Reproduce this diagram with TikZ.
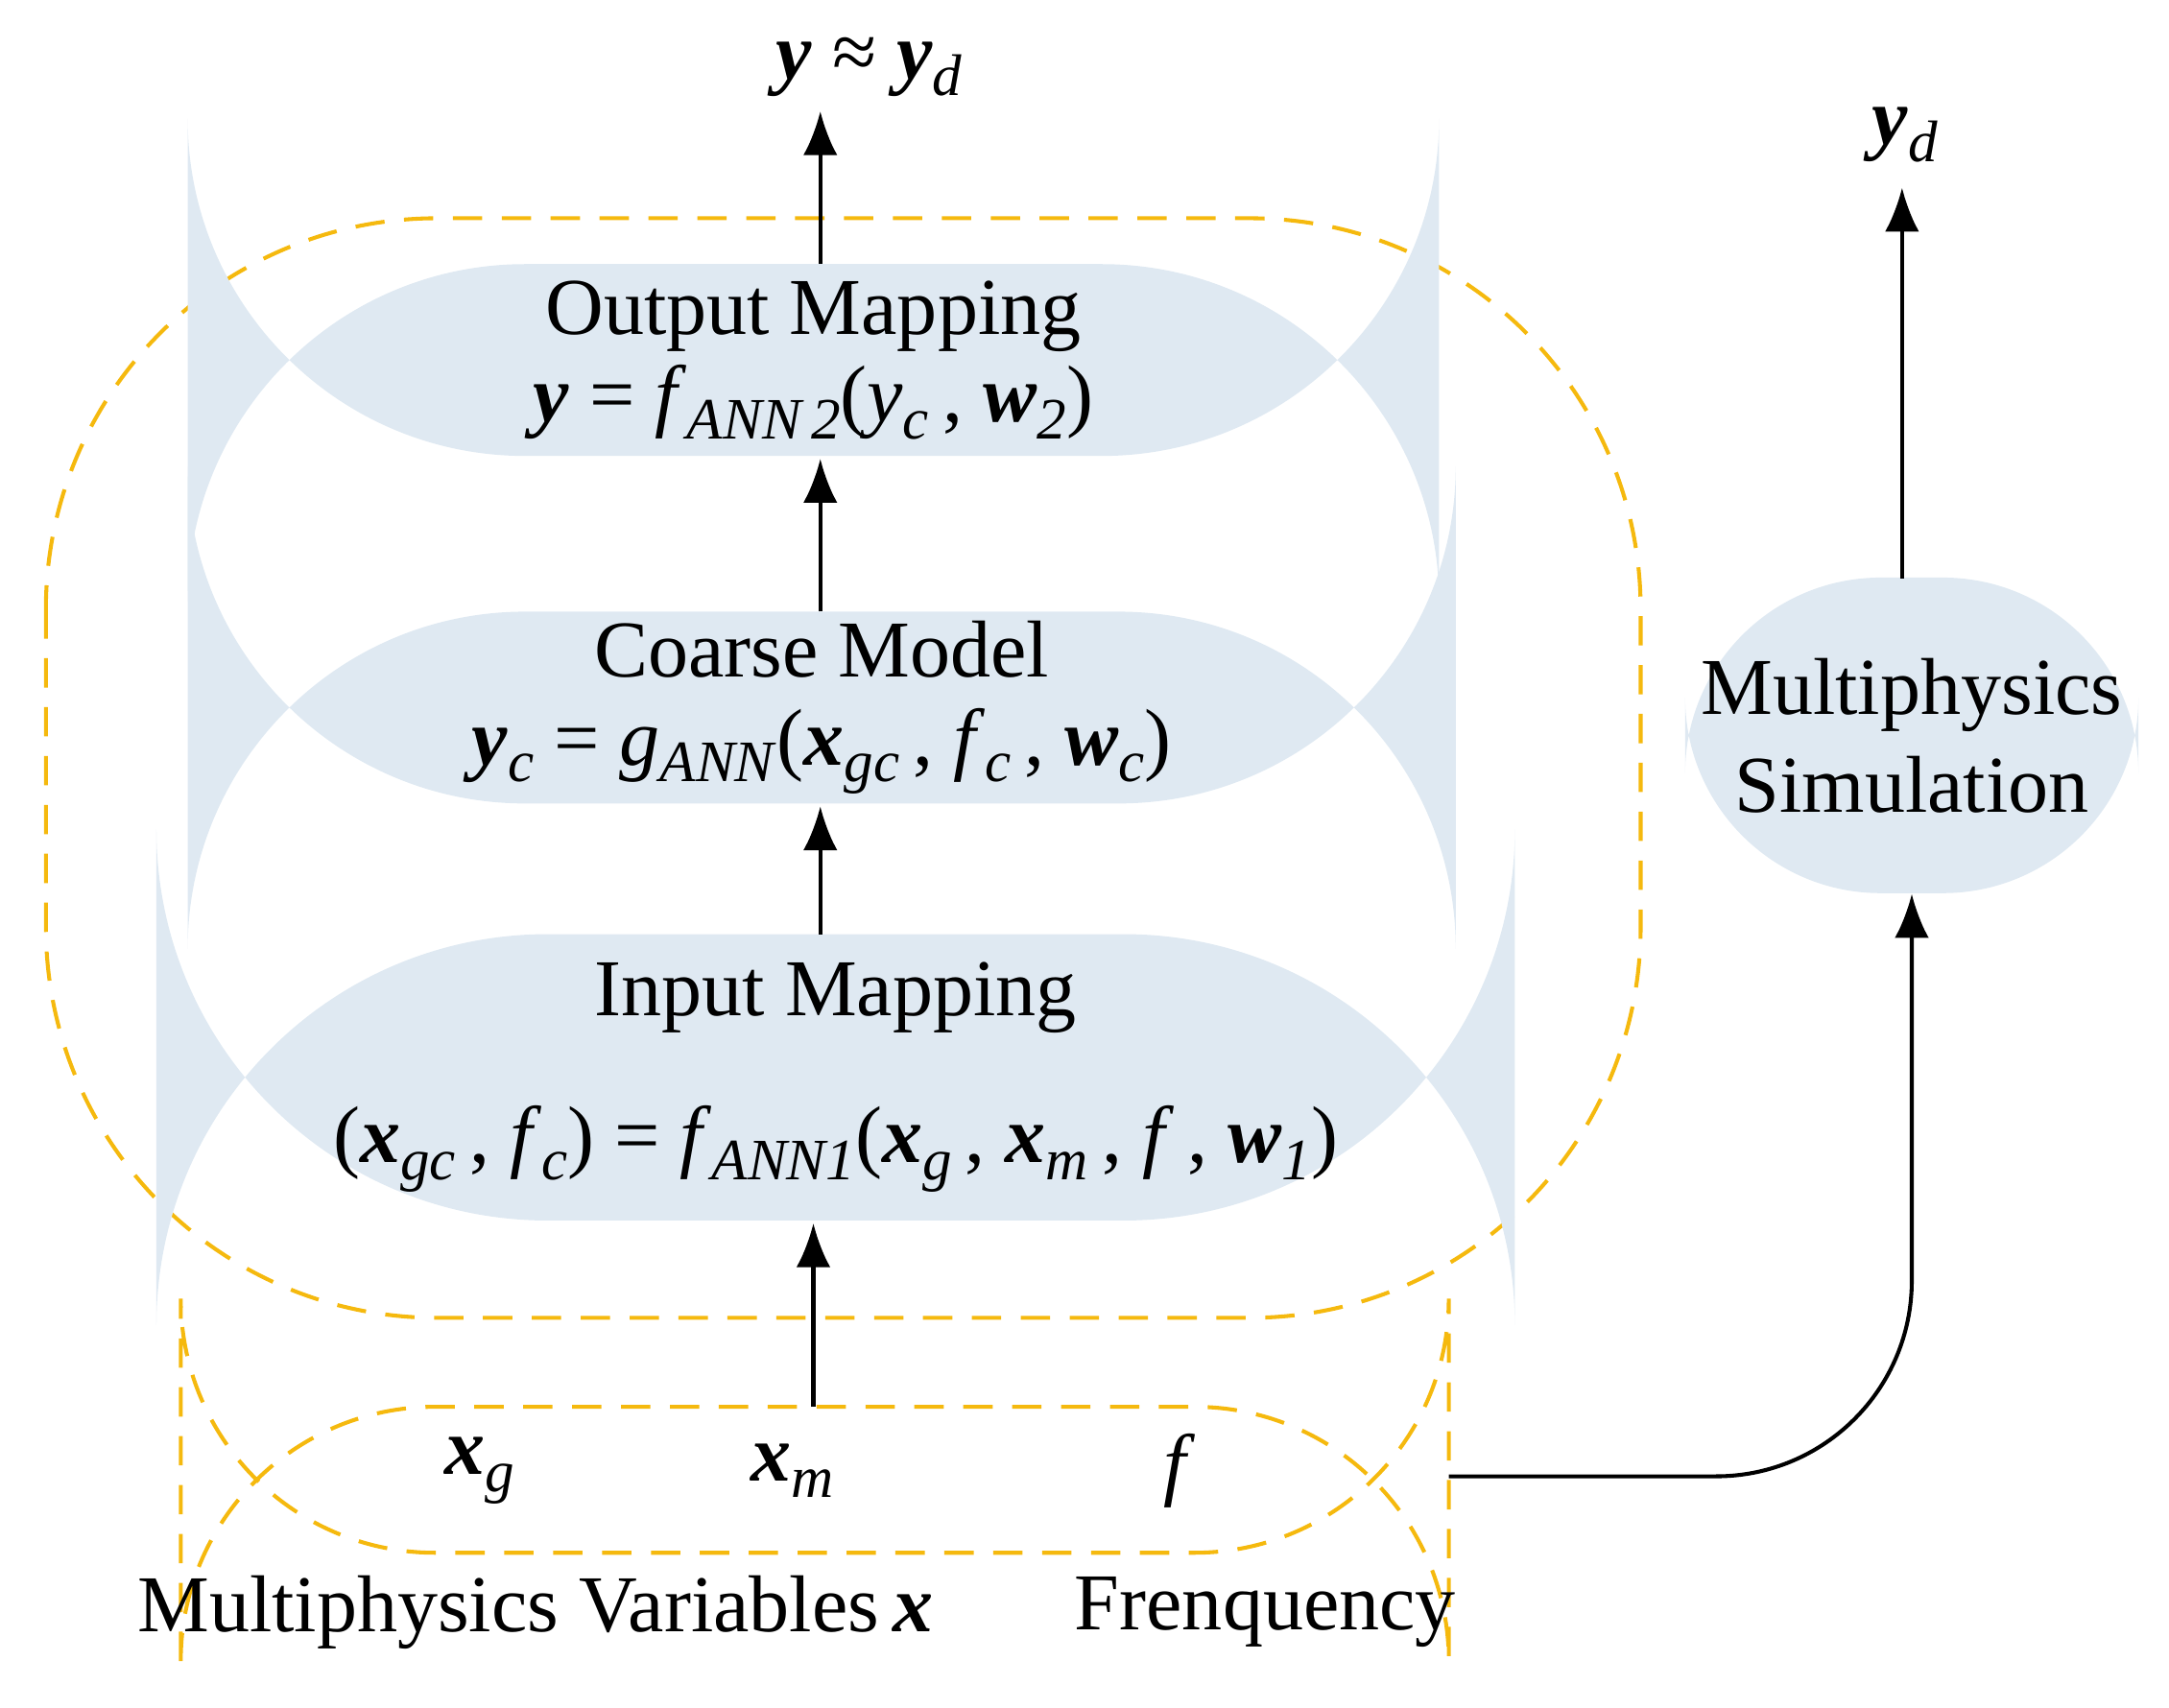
\documentclass[tikz,border=0pt]{standalone}
\usepackage{fontspec}
\setmainfont{Liberation Serif}
\usetikzlibrary{arrows.meta}
\newcommand{\bi}[1]{\textit{\textbf{#1}}}
\newcommand{\sub}[1]{\raisebox{-0.45ex}{\fontsize{12}{12}\selectfont\textit{#1}}}
\begin{document}
\begin{tikzpicture}[x=0.01cm,y=-0.01cm,
  font=\fontsize{16.5}{20}\selectfont,
  box/.style={fill=boxc, draw=none, align=center, inner sep=0pt},
  arr/.style={-{Latex[length=9pt,width=7pt]}, line width=0.8pt},
  dashbox/.style={draw=dashc, dash pattern=on 6pt off 4pt, line width=0.8pt}]
\definecolor{boxc}{HTML}{DFE9F2}
\definecolor{dashc}{HTML}{F5B90E}
\useasboundingbox (0,0) rectangle (1560,1228);
\draw[dashbox, rounded corners=80] (33,157) rectangle (1180,948);
\node[box, rounded corners=69, minimum width=900*0.01cm, minimum height=138*0.01cm] (out) at (585,259)
 {Output Mapping\\[-2pt] \bi{y} = \textit{f}\sub{ANN\,2}(\textit{y}\sub{c}\,, \bi{w}\sub{2})};
\node[box, rounded corners=69, minimum width=912*0.01cm, minimum height=138*0.01cm] (coarse) at (591,509)
 {Coarse Model\\[-2pt] \bi{y}\sub{c} = \textit{g}\sub{ANN}(\bi{x}\sub{gc}\,, \textit{f}\sub{c}\,, \bi{w}\sub{c})};
\node[box, rounded corners=80, minimum width=977*0.01cm, minimum height=206*0.01cm] (in) at (601,775)
 {Input Mapping\\[10pt] (\bi{x}\sub{gc}\,, \textit{f}\sub{c}) = \textit{f}\sub{ANN1}(\bi{x}\sub{g}\,, \bi{x}\sub{m}\,, \textit{f}\,, \bi{w}\sub{1})};
\node[box, rounded corners=40, minimum width=326*0.01cm, minimum height=227*0.01cm] (sim) at (1375,529)
 {Multiphysics\\ Simulation};
\draw[dashbox, rounded corners=52] (130,1012) rectangle (1042,1117);
\coordinate (vin) at (585,1012);
\coordinate (vout) at (1042,1062);
\node (xg) at (345,1058) {\bi{x}\sub{g}};
\node (xm) at (570,1058) {\bi{x}\sub{m}};
\node (f) at (848,1058) {\textit{f}};
\node (lab1) at (385,1160) {Multiphysics Variables\,\bi{x}};
\node (lab2) at (910,1160) {Frenquency};
\node (top) at (625,48) {\bi{y} ≈ \bi{y}\sub{d}};
\node (yd) at (1370,97) {\bi{y}\sub{d}};
\draw[arr] (590,190) -- (590,80);
\draw[arr] (590,440) -- (590,330);
\draw[arr] (590,672) -- (590,580);
\draw[arr] (vin) -- (585,880);
\draw[arr] (1368,416) -- (1368,135);
\draw[arr, rounded corners=40] (vout) -- (1375,1062) -- (1375,643);
\end{tikzpicture}
\end{document}
